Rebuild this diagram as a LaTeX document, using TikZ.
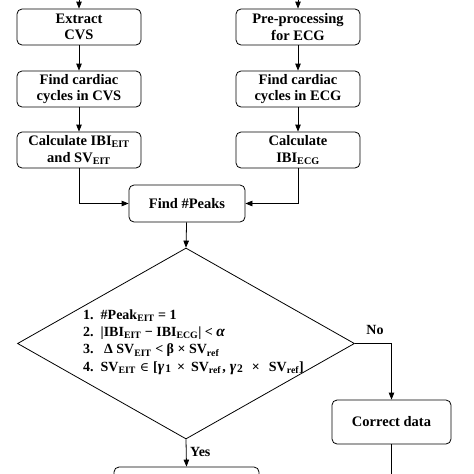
\documentclass[tikz,border=0pt]{standalone}
\usepackage{fontspec}
\setmainfont{Liberation Serif}
\newfontfamily\dvs{DejaVu Serif}
\usetikzlibrary{shapes.geometric,arrows.meta}
\newcommand{\gm}[1]{{\fontsize{15.5}{15}\selectfont\bfseries\itshape γ\kern1pt\raisebox{-1.5pt}{\fontsize{11.5}{11}\selectfont\upshape #1}}}
\newcommand{\al}{{\fontsize{15.5}{15}\selectfont\bfseries\itshape α}}
\newcommand{\elem}{{\dvs\mdseries\fontsize{12.5}{12}\selectfont ∈}}
\tikzset{
  box/.style={draw, rounded corners=5pt, line width=0.8pt, minimum width=124pt, minimum height=36pt, align=center, inner sep=1pt, font=\fontsize{14.5}{16.5}\selectfont\bfseries},
  arr/.style={line width=0.8pt, -{Triangle[length=7pt,width=5.5pt]}},
  ln/.style={line width=0.8pt},
  lbl/.style={font=\fontsize{14}{16}\selectfont\bfseries, inner sep=0pt}
}
\begin{document}
\begin{tikzpicture}[x=1pt,y=-1pt]
\useasboundingbox (0,0) rectangle (474,474);
\clip (0,0) rectangle (474,474);
\coordinate (t1) at (79,-2);
\coordinate (t2) at (298,-2);
\node[box] (extract) at (79,27) {Extract\\CVS};
\node[box] (preproc) at (298,27) {Pre-processing\\for ECG};
\node[box] (cycCVS) at (79,89) {Find cardiac\\cycles in CVS};
\node[box] (cycECG) at (298,89) {Find cardiac\\cycles in ECG};
\node[box] (calcCVS) at (79,150) {Calculate IBI\textsubscript{EIT}\\and SV\textsubscript{EIT}};
\node[box] (calcECG) at (298,150) {Calculate\\IBI\textsubscript{ECG}};
\node[box, minimum width=116pt, minimum height=37pt] (peaks) at (187,203.5) {Find \#Peaks};
\node[draw, diamond, line width=0.8pt, minimum width=337pt, minimum height=191pt, inner sep=0pt, aspect=1.76] (dia) at (186,343.5) {};
\node[anchor=west, align=left, inner sep=0pt, font=\fontsize{14}{17.3}\selectfont\bfseries] (cond) at (83,342) {1.\ \ \#Peak\textsubscript{EIT} = 1\\2.\ \ |IBI\textsubscript{EIT}\ − IBI\textsubscript{ECG}| < \al\\3.\ \ \ Δ SV\textsubscript{EIT} < β × SV\textsubscript{ref}\\4.\ \ SV\textsubscript{EIT}\hspace{4pt}\elem\hspace{4pt}[\gm{1}\hspace{6pt}×\hspace{6pt}SV\textsubscript{ref}\hspace{1pt},\hspace{4pt}\gm{2}\hspace{9pt}×\hspace{9pt}SV\textsubscript{ref}]};
\node[box, minimum width=119pt, minimum height=44pt] (correct) at (391.5,422) {Correct data};
\node[box, minimum width=145pt, minimum height=40pt] (final) at (186.5,487) {};
\coordinate (cend) at (391.5,480);
\node[lbl] (no) at (375,330) {No};
\node[lbl, anchor=west] (yes) at (190,452) {Yes};
\draw[arr] (t1) -- (extract);
\draw[arr] (t2) -- (preproc);
\draw[arr] (extract) -- (cycCVS);
\draw[arr] (preproc) -- (cycECG);
\draw[arr] (cycCVS) -- (calcCVS);
\draw[arr] (cycECG) -- (calcECG);
\draw[arr] (calcCVS) |- (peaks);
\draw[arr] (calcECG) |- (peaks);
\draw[arr] (peaks) -- (dia.north);
\draw[arr] (dia.east) -| (correct.north);
\draw[ln] (correct.south) -- (cend);
\draw[arr] (dia.south) -- (final.north);
\end{tikzpicture}
\end{document}
